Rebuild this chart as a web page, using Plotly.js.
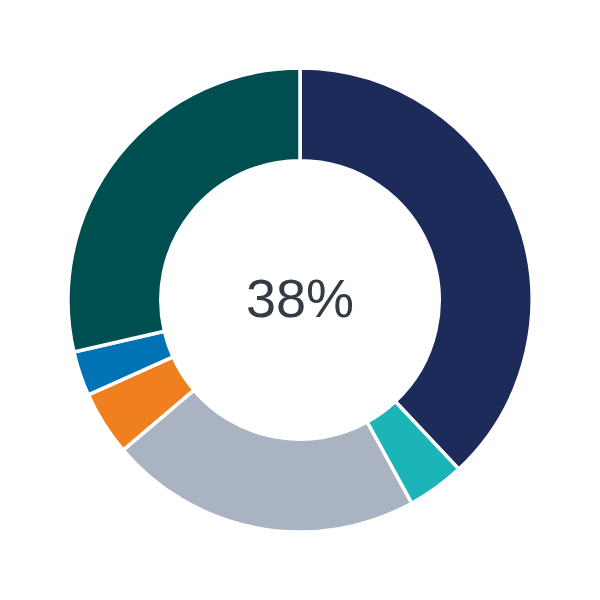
<!DOCTYPE html>
<html>
<head>
<meta charset="utf-8">
<script src="https://cdn.plot.ly/plotly-3.0.1.min.js"></script>
<style>html,body{margin:0;padding:0;background:#fff;}#chart{width:600px;height:600px;}</style>
</head>
<body>
<div id="chart"></div>
<script>
const labels = ["Navy", "Teal", "Gray", "Orange", "Blue", "Green"];
const values = [38, 4, 21.8, 4.5, 3.1, 28.6];
const colors = ["#1c2b5a", "#1bb5b7", "#a9b3c1", "#f07f1e", "#0073b5", "#004f50"];
const centerText = "38%";

Plotly.newPlot("chart", [{
  type: "pie",
  labels: labels,
  values: values,
  hole: 0.6,
  sort: false,
  direction: "clockwise",
  rotation: 0,
  textinfo: "none",
  hoverinfo: "none",
  marker: {colors: colors, line: {color: "#ffffff", width: 3.5}}
}], {
  width: 600, height: 600,
  margin: {l: 68, r: 68, t: 68, b: 68},
  showlegend: false,
  paper_bgcolor: "#ffffff",
  annotations: [{
    text: centerText, x: 0.5, y: 0.505, xref: "paper", yref: "paper",
    showarrow: false,
    font: {family: "Liberation Sans, Arial, sans-serif", size: 54, color: "#333b45"}
  }]
}, {staticPlot: true});
</script>
</body>
</html>
